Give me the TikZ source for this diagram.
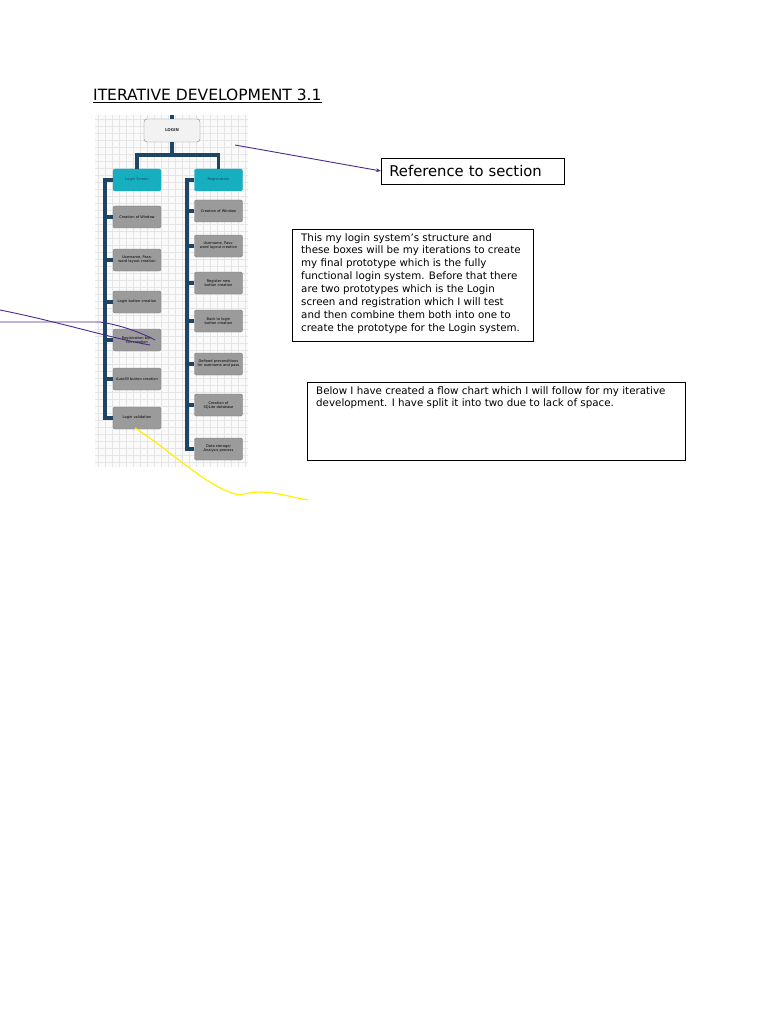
\documentclass[tikz,border=0pt]{standalone}
\usepackage{fontspec}
\setmainfont{DejaVu Sans}
\usetikzlibrary{arrows.meta}
\definecolor{navy}{HTML}{1F4564}
\definecolor{teal}{HTML}{17AEBF}
\definecolor{gbox}{HTML}{9B9B9B}
\definecolor{purp}{HTML}{4B2A8C}
\begin{document}
\begin{tikzpicture}[x=1pt,y=-1pt,
 gb/.style={draw=gbox!80!black,fill=gbox,rounded corners=2pt,minimum width=48pt,minimum height=22pt,align=center,font=\fontsize{3.6}{4}\selectfont,inner sep=1pt,text width=46pt},
 tb/.style={gb,fill=teal,draw=teal,text=navy},
 bus/.style={navy,line width=3.2pt},
 txt/.style={anchor=north west,align=left,inner sep=0pt}]
\useasboundingbox (0,0) rectangle (768,1024);
\fill[white] (0,0) rectangle (768,1024);
\fill[gray!4] (95,115) rectangle (248,467);
\draw[gray!20,line width=0.2pt,step=7pt] (95,115) grid (248,467);
\node[anchor=base west,inner sep=0pt,font=\fontsize{15.5}{17}\selectfont] (title) at (93,101) {\underline{ITERATIVE DEVELOPMENT 3.1}};
% tree
\node[draw=gray,fill=gray!10,rounded corners=3pt,minimum width=56pt,minimum height=23pt,font=\fontsize{4}{5}\selectfont\bfseries,text=gray!40!black] (login) at (172,130.5) {LOGIN};
\node[tb] (ls) at (137,180) {Login Screen};
\node[tb] (rg) at (218.5,180) {Registration};
\coordinate (top) at (172,115);
\coordinate (j) at (172,155);
\draw[bus] (top) -- (login.north);
\draw[bus] (login.south) -- (j);
\draw[bus] (ls.north) |- (j) -| (rg.north);
\foreach \n/\y/\t in {l1/217/{Creation of Window},l2/260/{Username, Password layout creation},l3/302/{Login button creation},l4/340/{Registration button creation},l5/379/{Autofill button creation},l6/418/{Login validation}}{
 \node[gb] (\n) at (137,\y) {\t};
 \draw[bus] (105,\y) -- (\n.west);}
\foreach \n/\y/\t in {r1/211/{Creation of Window},r2/246/{Username, Password layout creation},r3/283/{Register new button creation},r4/321/{Back to login button creation},r5/364/{Defined preconditions for username and pass},r6/405/{Creation of SQLite database},r7/449/{Data storage/ Analysis process}}{
 \node[gb] (\n) at (218.5,\y) {\t};
 \draw[bus] (187,\y) -- (\n.west);}
\draw[bus] (ls.west) -- (105,180) -- (105,419.6);
\draw[bus] (rg.west) -- (187,180) -- (187,450.6);
% reference
\node[draw,line width=0.6pt,minimum width=183pt,minimum height=26pt,text width=167pt,align=left,inner xsep=8pt,anchor=west,font=\fontsize{14.8}{16}\selectfont] (ref) at (381,171) {Reference to section};
\coordinate (a0) at (235,145);
\draw[purp,line width=0.9pt,-{Stealth[length=5pt]}] (a0) -- (ref.west);
\draw[line width=0.6pt] (292,229) rectangle (533,341);
\node[txt,font=\fontsize{10.3}{12.9}\selectfont] (p1) at (301,233) {This my login system's structure and\\these boxes will be my iterations to create\\my final prototype which is the fully\\functional login system. Before that there\\are two prototypes which is the Login\\screen and registration which I will test\\and then combine them both into one to\\create the prototype for the Login system.};
\draw[line width=0.6pt] (307,382) rectangle (685,460);
\node[txt,font=\fontsize{10.3}{12.9}\selectfont] (p2) at (316,386) {Below I have created a flow chart which I will follow for my iterative\\development. I have split it into two due to lack of space.};
% scribbles
\draw[purp,line width=0.9pt] (0,310) .. controls (60,322) and (110,338) .. (150,345);
\draw[purp,line width=0.9pt] (0,322) -- (100,322) .. controls (120,325) and (140,332) .. (155,340);
\draw[yellow,line width=1.2pt] (135,428) .. controls (170,450) and (210,490) .. (240,495) .. controls (265,488) and (280,495) .. (308,500);
\end{tikzpicture}
\end{document}
